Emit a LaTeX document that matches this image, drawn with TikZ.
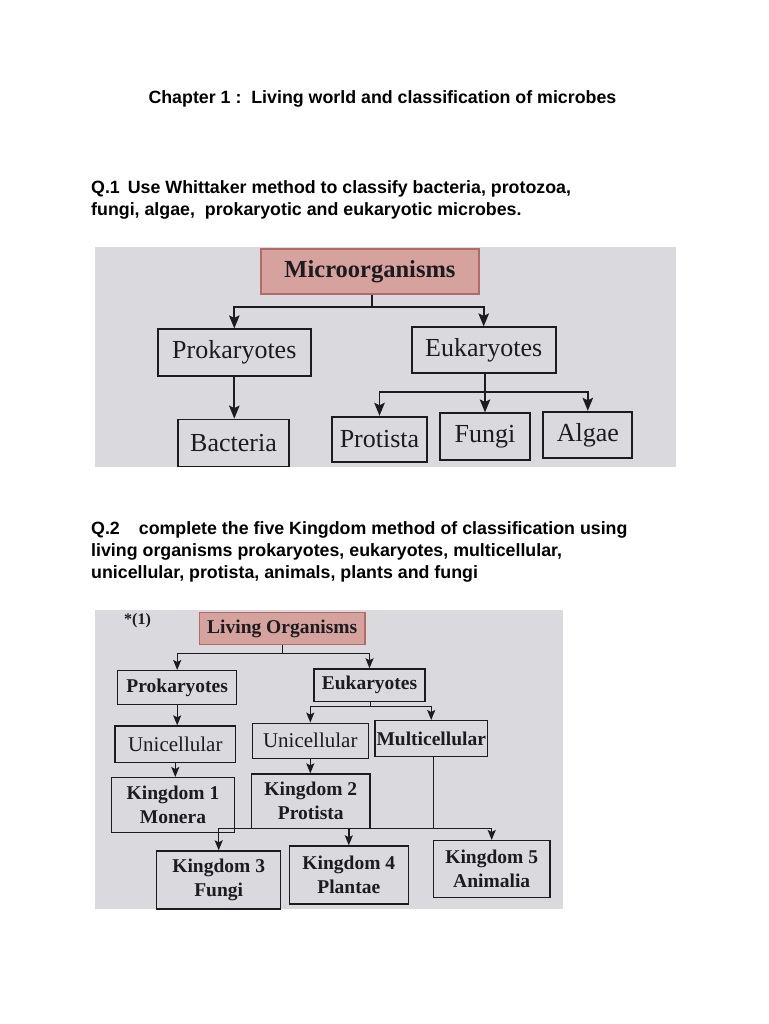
\documentclass[tikz,border=0pt]{standalone}
\usepackage{fontspec}
\newfontfamily\arialfont{Liberation Sans}
\newfontfamily\bookfont{Liberation Serif}
\usetikzlibrary{arrows.meta}
\definecolor{panelbg}{RGB}{218,217,222}
\definecolor{pinkfill}{RGB}{214,162,157}
\definecolor{pinkline}{RGB}{178,108,102}
\definecolor{ink}{RGB}{28,28,30}
\begin{document}
\begin{tikzpicture}[x=1pt,y=-1pt,
  headtext/.style={font=\arialfont\bfseries\fontsize{17.8}{22}\selectfont, anchor=base west, inner sep=0pt, text=black},
  boxa/.style={draw=ink, line width=1.8pt, inner sep=0pt, font=\bookfont\fontsize{26}{30}\selectfont, text=ink},
  roota/.style={boxa, fill=pinkfill, draw=pinkline, font=\bookfont\bfseries\fontsize{24.5}{28}\selectfont},
  linea/.style={draw=ink, line width=1.8pt},
  arra/.style={linea, -{Stealth[length=13pt,width=10.5pt,inset=2.5pt]}},
  boxb/.style={draw=ink, line width=1.4pt, inner sep=0pt, align=center, font=\bookfont\bfseries\fontsize{19.5}{24}\selectfont, text=ink},
  boxbr/.style={boxb, font=\bookfont\fontsize{21}{24}\selectfont},
  rootb/.style={boxb, fill=pinkfill, draw=pinkline},
  lineb/.style={draw=ink, line width=1.4pt},
  arrb/.style={lineb, -{Stealth[length=10pt,width=8pt,inset=2pt]}}
]
\useasboundingbox (0,0) rectangle (768,1024);
\fill[white] (0,0) rectangle (768,1024);

% headings
\node[headtext] (title) at (148.3,103.7) {Chapter 1 :\ \ Living world and classification of microbes};
\node[headtext] (qonea) at (91,193.5) {Q.1\hspace{8pt}Use Whittaker method to classify bacteria, protozoa,};
\node[headtext] (qoneb) at (91,215.5) {fungi, algae,\ \ prokaryotic and eukaryotic microbes.};
\node[headtext] (qtwoa) at (91,534) {Q.2\hspace{19pt}complete the five Kingdom method of classification using};
\node[headtext] (qtwob) at (91,556) {living organisms prokaryotes, eukaryotes, multicellular,};
\node[headtext] (qtwoc) at (91,578) {unicellular, protista, animals, plants and fungi};

% panel 1
\fill[panelbg] (95,246.7) rectangle (675.7,467);
\begin{scope}
\clip (95,246.7) rectangle (675.7,467);
\node[roota, minimum width=218pt, minimum height=44.7pt] (micro) at (370,271.7) {Microorganisms};
\node[boxa, minimum width=153.3pt, minimum height=46.7pt] (prok) at (234.3,352.7) {Prokaryotes};
\node[boxa, minimum width=144pt, minimum height=45.3pt] (euk) at (483.7,350) {Eukaryotes};
\node[boxa, minimum width=111.6pt, minimum height=47pt] (bact) at (233.5,443) {Bacteria};
\node[boxa, minimum width=94.4pt, minimum height=45pt] (prota) at (379.5,439.2) {Protista};
\node[boxa, minimum width=90pt, minimum height=46.7pt] (funga) at (485,436.7) {Fungi};
\node[boxa, minimum width=89pt, minimum height=46.6pt] (algae) at (587.8,435) {Algae};
\coordinate (ja) at (371.7,306.7);
\coordinate (jb) at (485,392.3);
\draw[linea] (micro.south -| ja) -- (ja);
\draw[arra] (ja) -| (prok.north);
\draw[arra] (ja) -| (euk.north);
\draw[arra] (prok.south) -- (prok.south |- bact.north);
\draw[linea] (euk.south -| jb) -- (jb);
\draw[arra] (jb) -- (funga.north);
\draw[arra] (jb) -| (prota.north);
\draw[arra] (jb) -| (algae.north);
\end{scope}

% panel 2
\fill[panelbg] (95,610) rectangle (562.7,909);
\begin{scope}
\clip (95,610) rectangle (562.7,909);
\node[font=\bookfont\bfseries\fontsize{16}{18}\selectfont, text=ink, inner sep=0pt] (star) at (137.5,621) {*(1)};
\node[rootb, minimum width=165.7pt, minimum height=31.6pt] (living) at (282.2,628.5) {Living Organisms};
\node[boxb, minimum width=119pt, minimum height=33.6pt] (prokb) at (177.2,687.5) {Prokaryotes};
\node[boxb, minimum width=111pt, minimum height=32.7pt] (eukb) at (369.5,685.3) {Eukaryotes};
\node[boxbr, minimum width=120.7pt, minimum height=36.3pt] (unia) at (175.3,744.2) {Unicellular};
\node[boxbr, minimum width=116pt, minimum height=35pt] (unib) at (310.3,740.8) {Unicellular};
\node[boxb, minimum width=112.3pt, minimum height=36pt] (multi) at (431.2,738.7) {Multicellular};
\node[boxb, minimum width=122.6pt, minimum height=54.6pt] (kone) at (173,805) {Kingdom 1\\Monera};
\node[boxb, minimum width=118.3pt, minimum height=54.3pt] (ktwo) at (310.8,801.2) {Kingdom 2\\Protista};
\node[boxb, minimum width=124pt, minimum height=58pt] (kthree) at (218.7,880) {Kingdom 3\\Fungi};
\node[boxb, minimum width=119pt, minimum height=58pt] (kfour) at (348.8,875) {Kingdom 4\\Plantae};
\node[boxb, minimum width=116.7pt, minimum height=56.6pt] (kfive) at (491.7,869) {Kingdom 5\\Animalia};
\coordinate (jc) at (282.7,653.3);
\coordinate (jd) at (370.7,706.7);
\coordinate (je) at (433.3,828.3);
\draw[lineb] (living.south -| jc) -- (jc);
\draw[arrb] (jc) -| (prokb.north);
\draw[arrb] (jc) -| (eukb.north);
\draw[arrb] (prokb.south) -- (prokb.south |- unia.north);
\draw[arrb] (unia.south) -- (unia.south |- kone.north);
\draw[lineb] (eukb.south -| jd) -- (jd);
\draw[arrb] (jd) -| (unib.north);
\draw[arrb] (jd) -| (multi.north);
\draw[arrb] (unib.south) -- (unib.south |- ktwo.north);
\draw[lineb] (multi.south -| je) -- (je);
\draw[arrb] (je) -| (kthree.north);
\draw[arrb] (je) -| (kfour.north);
\draw[arrb] (je) -| (kfive.north);
\end{scope}
\end{tikzpicture}
\end{document}
